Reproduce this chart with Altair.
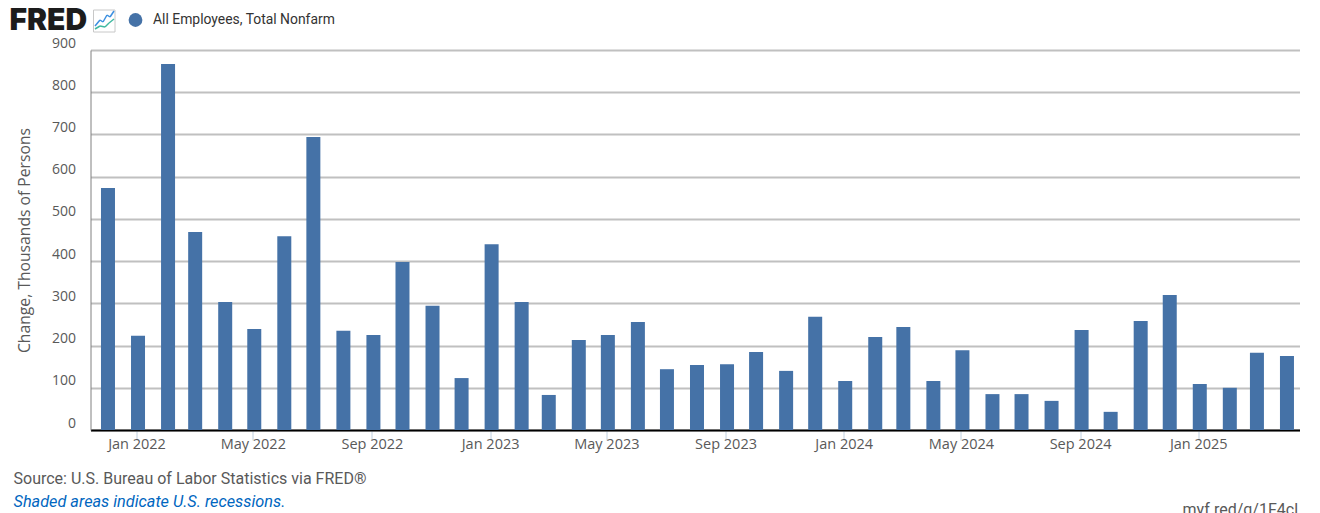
import altair as alt
import pandas as pd

values = [
    573, 223, 867, 469, 303, 239, 459, 694, 235, 225, 398, 294,
    123, 440, 303, 83, 213, 225, 256, 144, 154, 156, 185, 140,
    268, 116, 220, 244, 116, 189, 85, 85, 69, 237, 43, 258,
    320, 109, 100, 183, 175,
]
months = pd.date_range("2021-12-01", "2025-04-01", freq="MS").strftime("%Y-%m-%d").tolist()
y_ticks = [0, 100, 200, 300, 400, 500, 600, 700, 800, 900]

# logo icon polylines, pixels relative to the plot area
icon_blue = [(4.5, -24), (9.5, -30), (12.5, -28), (16.5, -35), (19.5, -33), (23.5, -39)]
icon_green = [(4.5, -21), (9.5, -24), (14.5, -23), (18.5, -27), (23.5, -31)]

data = pd.DataFrame({"month": months, "value": values})

bars = (
    alt.Chart(data)
    .mark_bar(size=14, color="#4572a7", xOffset=1.5)
    .encode(
        x=alt.X(
            "month:T",
            title=None,
            scale=alt.Scale(domain=["2021-11-14T12:00:00", "2025-04-16"], padding=0),
            axis=alt.Axis(
                tickCount={"interval": "month", "step": 4},
                format="%b %Y",
                labelFont="Open Sans",
                labelFontSize=14.5,
                labelColor="#595959",
                labelPadding=-3,
                labelFlush=False,
                tickColor="#c0d0e0",
                tickSize=10,
                tickWidth=1,
                domainColor="#000000",
                domainWidth=2,
                grid=False,
            ),
        ),
        y=alt.Y(
            "value:Q",
            title="Change, Thousands of Persons",
            scale=alt.Scale(domain=[0, 900], nice=False),
            axis=alt.Axis(
                values=y_ticks,
                labelFont="Open Sans",
                labelFontSize=14,
                labelColor="#595959",
                labelOffset=-7,
                labelPadding=15,
                ticks=False,
                domainColor="#808080",
                domainWidth=1,
                gridColor="#c0c0c0",
                gridWidth=1.8,
                titleFont="Open Sans",
                titleFontSize=15.7,
                titleFontWeight="normal",
                titleColor="#595959",
                titlePadding=19,
            ),
        ),
    )
)


def label(text, x, y, **style):
    return alt.Chart({"values": [{}]}).mark_text(text=text, align="left", **style).encode(
        x=alt.value(x), y=alt.value(y)
    )


def polyline(points, color):
    return [
        alt.Chart({"values": [{}]}).mark_rule(color=color, strokeWidth=1.5).encode(
            x=alt.value(a[0]), y=alt.value(a[1]), x2=alt.value(b[0]), y2=alt.value(b[1])
        )
        for a, b in zip(points, points[1:])
    ]


logo = label("FRED", -81, -29, font="Inter", fontSize=30, fontWeight=900, color="#1c1c1c")
icon_frame = (
    alt.Chart({"values": [{}]})
    .mark_rect(fill="#ffffff", stroke="#c8c8c8", strokeWidth=1)
    .encode(x=alt.value(3), x2=alt.value(24.5), y=alt.value(-40), y2=alt.value(-18))
)
legend_dot = (
    alt.Chart({"values": [{}]})
    .mark_point(filled=True, size=190, color="#4572a7", opacity=1)
    .encode(x=alt.value(45), y=alt.value(-30))
)
legend_text = label(
    "All Employees, Total Nonfarm", 62.5, -30, font="Roboto", fontSize=13.9, color="#333333"
)
source = label("Source: U.S. Bureau of Labor Statistics via FRED®", -77, 429, font="Roboto", fontSize=16, color="#595959")
shaded = label(
    "Shaded areas indicate U.S. recessions.", -77, 452, font="Roboto", fontSize=16.3, fontStyle="italic", color="#0066c0"
)
short_url = label("myf.red/g/1F4cl", 1092, 460, font="Roboto", fontSize=16, color="#595959")

chart = alt.layer(
    bars,
    logo,
    icon_frame,
    *polyline(icon_blue, "#3b8fe0"),
    *polyline(icon_green, "#3fb8a0"),
    legend_dot,
    legend_text,
    source,
    shaded,
    short_url,
).properties(
    width=1209.5,
    height=380,
    autosize=alt.AutoSizeParams(type="none"),
    padding={"left": 82.5, "top": 42, "right": 0, "bottom": 83},
).configure_view(stroke=None)

chart.save("out.html", embed_options={"renderer": "svg", "actions": False})
